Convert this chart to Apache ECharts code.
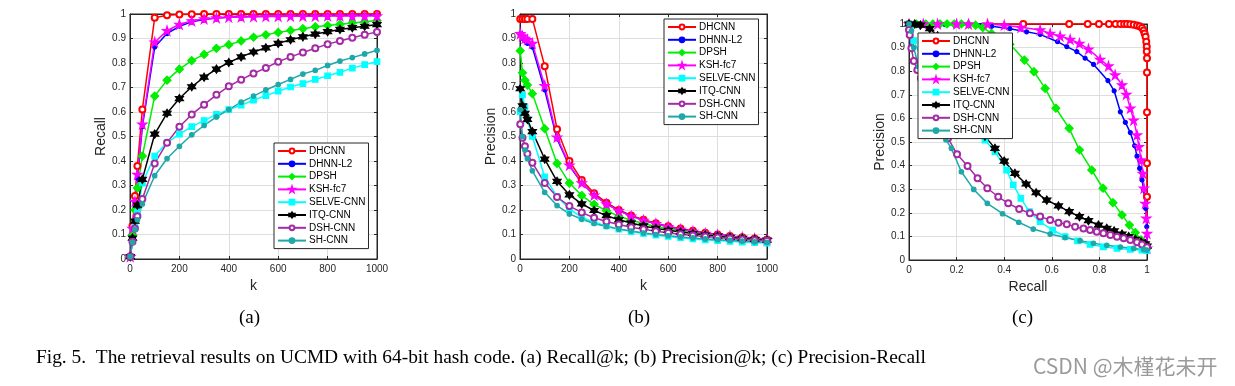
<!DOCTYPE html>
<html>
<head>
<meta charset="utf-8">
<script src="https://cdn.jsdelivr.net/npm/echarts@6/dist/echarts.min.js"></script>
<style>
html,body{margin:0;padding:0;background:#fff;}
#c{width:1235px;height:386px;}
</style>
</head>
<body>
<div id="c"></div>
<script>
// ---------------- DATA ----------------
const seriesNames = ['DHCNN','DHNN-L2','DPSH','KSH-fc7','SELVE-CNN','ITQ-CNN','DSH-CNN','SH-CNN'];
const kValues = [1,10,20,30,50,100,150,200,250,300,350,400,450,500,550,600,650,700,750,800,850,900,950,1000];

// (a) Recall@k
const recallDHCNN = [0.01,0.135,0.257,0.38,0.61,0.985,0.995,0.998,0.999,1,1,1,1,1,1,1,1,1,1,1,1,1,1,1];
const recallDHNN  = [0.01,0.12,0.22,0.33,0.54,0.865,0.92,0.95,0.968,0.978,0.984,0.987,0.989,0.99,0.991,0.992,0.992,0.993,0.993,0.994,0.994,0.995,0.995,0.995];
const recallDPSH  = [0.01,0.1,0.2,0.29,0.42,0.665,0.73,0.775,0.81,0.835,0.86,0.875,0.89,0.905,0.915,0.925,0.933,0.94,0.948,0.953,0.958,0.963,0.968,0.973];
const recallKSH   = [0.01,0.125,0.235,0.345,0.55,0.885,0.932,0.958,0.972,0.98,0.984,0.987,0.988,0.989,0.99,0.99,0.991,0.991,0.991,0.992,0.992,0.992,0.992,0.992];
const recallSELVE = [0.01,0.075,0.14,0.19,0.31,0.42,0.475,0.51,0.54,0.565,0.59,0.61,0.628,0.648,0.667,0.685,0.702,0.716,0.733,0.748,0.762,0.779,0.793,0.806];
const recallITQ   = [0.01,0.085,0.155,0.22,0.325,0.51,0.595,0.655,0.703,0.742,0.775,0.802,0.825,0.845,0.862,0.88,0.895,0.907,0.918,0.928,0.937,0.944,0.95,0.957];
const recallDSH   = [0.01,0.07,0.125,0.175,0.245,0.39,0.475,0.54,0.59,0.63,0.67,0.705,0.732,0.757,0.78,0.805,0.825,0.843,0.86,0.877,0.89,0.903,0.915,0.927];
const recallSH    = [0.01,0.068,0.12,0.16,0.225,0.34,0.41,0.46,0.507,0.545,0.58,0.61,0.64,0.665,0.69,0.712,0.733,0.755,0.77,0.79,0.808,0.822,0.837,0.852];

// (b) Precision@k
const precDHCNN = [0.98,0.98,0.98,0.98,0.98,0.787,0.53,0.4,0.322,0.268,0.23,0.2,0.178,0.16,0.146,0.134,0.124,0.115,0.107,0.1,0.094,0.089,0.084,0.08];
const precDHNN  = [0.92,0.9,0.89,0.88,0.865,0.69,0.49,0.38,0.31,0.261,0.225,0.198,0.176,0.158,0.144,0.132,0.122,0.113,0.105,0.099,0.093,0.088,0.083,0.079];
const precDPSH  = [0.85,0.76,0.73,0.71,0.675,0.532,0.39,0.31,0.259,0.223,0.197,0.175,0.158,0.145,0.133,0.123,0.115,0.107,0.101,0.095,0.09,0.086,0.081,0.078];
const precKSH   = [0.92,0.91,0.9,0.895,0.88,0.708,0.497,0.383,0.311,0.261,0.225,0.197,0.175,0.158,0.144,0.132,0.121,0.113,0.105,0.099,0.093,0.088,0.083,0.079];
const precSELVE = [0.6,0.67,0.62,0.57,0.5,0.335,0.255,0.205,0.17,0.15,0.135,0.122,0.112,0.104,0.097,0.092,0.087,0.082,0.078,0.075,0.072,0.069,0.067,0.065];
const precITQ   = [0.695,0.625,0.595,0.57,0.52,0.408,0.317,0.262,0.225,0.198,0.177,0.16,0.147,0.135,0.125,0.117,0.11,0.104,0.098,0.093,0.088,0.084,0.08,0.077];
const precDSH   = [0.55,0.495,0.46,0.43,0.393,0.31,0.253,0.216,0.19,0.168,0.153,0.141,0.13,0.121,0.113,0.107,0.101,0.096,0.092,0.088,0.084,0.08,0.077,0.074];
const precSH    = [0.61,0.5,0.445,0.41,0.36,0.272,0.218,0.184,0.162,0.145,0.133,0.122,0.114,0.106,0.1,0.095,0.09,0.086,0.082,0.079,0.076,0.073,0.07,0.068];

// (c) Precision-Recall curves
const prRecDHCNN  = [0,0.48,0.673,0.751,0.798,0.84,0.868,0.888,0.904,0.916,0.93,0.944,0.958,0.969,0.979,0.986,0.99,0.994,0.997,0.999,0.999,1,1,1,1,1,1];
const prPrecDHCNN = [1,1,1,1,1,1,1,1,1,1,0.999,0.997,0.994,0.99,0.983,0.972,0.96,0.946,0.925,0.904,0.883,0.855,0.794,0.626,0.41,0.268,0.056];
const prRecDHNN   = [0,0.05,0.1,0.15,0.2,0.25,0.3,0.347,0.424,0.494,0.551,0.624,0.663,0.705,0.74,0.775,0.836,0.862,0.888,0.909,0.93,0.948,0.958,0.969,0.979,0.986,0.994,0.999,1];
const prPrecDHNN  = [1,1,1,0.998,0.997,0.995,0.993,0.99,0.98,0.967,0.956,0.925,0.904,0.883,0.855,0.829,0.76,0.717,0.628,0.583,0.54,0.484,0.44,0.388,0.339,0.297,0.219,0.141,0.056];
const prRecDPSH   = [0,0.03,0.07,0.1,0.13,0.16,0.19,0.22,0.25,0.28,0.31,0.347,0.424,0.485,0.525,0.572,0.617,0.673,0.716,0.768,0.815,0.857,0.895,0.926,0.951,0.975,0.993,1];
const prPrecDPSH  = [1,1,1,1,1,1,1,1,0.998,0.995,0.985,0.96,0.914,0.847,0.798,0.727,0.643,0.558,0.466,0.381,0.304,0.243,0.191,0.148,0.116,0.085,0.064,0.05];
const prRecKSH    = [0,0.06,0.12,0.2,0.25,0.33,0.4,0.47,0.551,0.593,0.635,0.677,0.716,0.754,0.803,0.838,0.866,0.895,0.913,0.93,0.944,0.958,0.966,0.975,0.982,0.987,0.993,0.997,1,1];
const prPrecKSH   = [1,1,1,1,1,1,0.995,0.986,0.975,0.96,0.949,0.935,0.918,0.894,0.85,0.822,0.784,0.742,0.702,0.643,0.593,0.53,0.48,0.424,0.367,0.304,0.24,0.177,0.113,0.05];
const prRecSELVE  = [0,0.005,0.02,0.05,0.1,0.15,0.2,0.25,0.29,0.319,0.361,0.41,0.438,0.47,0.506,0.551,0.604,0.656,0.708,0.761,0.817,0.874,0.93,0.979,1];
const prPrecSELVE = [1,0.99,0.93,0.86,0.78,0.72,0.66,0.6,0.55,0.508,0.459,0.381,0.318,0.261,0.205,0.162,0.127,0.099,0.081,0.066,0.056,0.049,0.045,0.042,0.04];
const prRecITQ    = [0,0.024,0.048,0.087,0.12,0.15,0.18,0.21,0.24,0.27,0.3,0.319,0.361,0.4,0.445,0.492,0.534,0.579,0.628,0.673,0.716,0.754,0.796,0.831,0.862,0.895,0.923,0.951,0.975,0.993,1];
const prPrecITQ   = [1,1,0.995,0.98,0.95,0.9,0.84,0.77,0.7,0.63,0.57,0.525,0.473,0.419,0.367,0.322,0.285,0.254,0.229,0.205,0.184,0.167,0.148,0.134,0.123,0.11,0.099,0.088,0.076,0.068,0.059];
const prRecDSH    = [0,0.003,0.01,0.02,0.035,0.05,0.07,0.1,0.13,0.164,0.202,0.246,0.288,0.329,0.375,0.417,0.463,0.508,0.551,0.593,0.628,0.663,0.698,0.733,0.761,0.789,0.817,0.846,0.874,0.902,0.93,0.958,0.979,1];
const prPrecDSH   = [0.975,0.953,0.897,0.843,0.805,0.77,0.72,0.65,0.58,0.516,0.448,0.398,0.346,0.304,0.268,0.24,0.216,0.198,0.184,0.169,0.158,0.151,0.141,0.133,0.127,0.12,0.113,0.106,0.099,0.092,0.085,0.075,0.066,0.054];
const prRecSH     = [0,0.01,0.02,0.04,0.07,0.1,0.13,0.155,0.178,0.22,0.272,0.329,0.393,0.461,0.522,0.593,0.656,0.719,0.775,0.831,0.888,0.944,0.986,1];
const prPrecSH    = [1,0.97,0.9,0.82,0.72,0.63,0.56,0.51,0.473,0.374,0.299,0.24,0.196,0.16,0.131,0.11,0.095,0.082,0.071,0.062,0.055,0.049,0.045,0.042];

const yTickLabels = ['0','0.1','0.2','0.3','0.4','0.5','0.6','0.7','0.8','0.9','1'];

// ---------------- STYLE ----------------
const starPath = 'path://M50,0 L61,35 L98,35 L68,57 L79,91 L50,70 L21,91 L32,57 L2,35 L39,35 Z';
const hexPath  = 'path://M50,0 L64,25 L93,25 L78,50 L93,75 L64,75 L50,100 L36,75 L7,75 L22,50 L7,25 L36,25 Z';
const styles = {
  'DHCNN':     {color:'#ff0000', symbol:'emptyCircle', size:6},
  'DHNN-L2':   {color:'#0000ff', symbol:'circle', size:4},
  'DPSH':      {color:'#00ee00', symbol:'diamond', size:8},
  'KSH-fc7':   {color:'#ff00ff', symbol:starPath, size:9},
  'SELVE-CNN': {color:'#00ffff', symbol:'rect', size:5.5},
  'ITQ-CNN':   {color:'#000000', symbol:hexPath, size:8},
  'DSH-CNN':   {color:'#a52aa5', symbol:'emptyCircle', size:6},
  'SH-CNN':    {color:'#1fa8a8', symbol:'circle', size:4.5}
};

const recallSets = [recallDHCNN,recallDHNN,recallDPSH,recallKSH,recallSELVE,recallITQ,recallDSH,recallSH];
const precSets   = [precDHCNN,precDHNN,precDPSH,precKSH,precSELVE,precITQ,precDSH,precSH];
const prRecSets  = [prRecDHCNN,prRecDHNN,prRecDPSH,prRecKSH,prRecSELVE,prRecITQ,prRecDSH,prRecSH];
const prPrecSets = [prPrecDHCNN,prPrecDHNN,prPrecDPSH,prPrecKSH,prPrecSELVE,prPrecITQ,prPrecDSH,prPrecSH];

const FONT = 'Liberation Sans';
const gridColor = '#dedede';

const grids = [
  {left:130, top:14, width:247, height:245},
  {left:520, top:14, width:247, height:245},
  {left:909, top:24, width:238, height:236}
];

const xDefs = [
  {min:0,max:1000,interval:200,name:'k'},
  {min:0,max:1000,interval:200,name:'k'},
  {min:0,max:1,interval:0.2,name:'Recall'}
];
const yNames = ['Recall','Precision','Precision'];

const xAxes = [], yAxes = [];
grids.forEach((g,i)=>{
  const xd = xDefs[i];
  xAxes.push({
    type:'value', gridIndex:i, min:xd.min, max:xd.max, interval:xd.interval, position:'bottom',
    name:xd.name, nameLocation:'middle', nameGap:19,
    nameTextStyle:{fontFamily:FONT,fontSize:14,color:'#262626'},
    axisLine:{show:true,onZero:false,lineStyle:{color:'#262626',width:1}},
    axisTick:{show:true,inside:true,length:3,lineStyle:{color:'#262626'}},
    axisLabel:{fontFamily:FONT,fontSize:10,color:'#262626',margin:5,
      formatter:(v)=>String(Math.round(v*1000)/1000)},
    splitLine:{show:true,lineStyle:{color:gridColor,width:1}}
  });
  xAxes.push({
    type:'value', gridIndex:i, min:xd.min, max:xd.max, interval:xd.interval, position:'top',
    axisLine:{show:true,onZero:false,lineStyle:{color:'#262626',width:1}},
    axisTick:{show:true,inside:true,length:3,lineStyle:{color:'#262626'}},
    axisLabel:{show:false}, splitLine:{show:false}
  });
  yAxes.push({
    type:'value', gridIndex:i, min:0, max:1, interval:0.1, position:'left',
    name:yNames[i], nameLocation:'middle', nameGap:17,
    nameTextStyle:{fontFamily:FONT,fontSize:14,color:'#262626'},
    axisLine:{show:true,onZero:false,lineStyle:{color:'#262626',width:1}},
    axisTick:{show:true,inside:true,length:3,lineStyle:{color:'#262626'}},
    axisLabel:{fontFamily:FONT,fontSize:10,color:'#262626',margin:4,
      formatter:(v)=>yTickLabels[Math.round(v*10)]},
    splitLine:{show:true,lineStyle:{color:gridColor,width:1}}
  });
  yAxes.push({
    type:'value', gridIndex:i, min:0, max:1, interval:0.1, position:'right',
    axisLine:{show:true,onZero:false,lineStyle:{color:'#262626',width:1}},
    axisTick:{show:true,inside:true,length:3,lineStyle:{color:'#262626'}},
    axisLabel:{show:false}, splitLine:{show:false}
  });
});

const series = [];
function addSeries(panel, name, data){
  const st = styles[name];
  series.push({
    type:'line', name:name, xAxisIndex:panel*2, yAxisIndex:panel*2,
    data:data, symbol:st.symbol, symbolSize:st.size, showSymbol:true,
    clip:false, animation:false, z:2,
    lineStyle:{color:st.color,width:1.5},
    itemStyle:{color:st.color,borderColor:st.color,borderWidth:1.2}
  });
}
seriesNames.forEach((n,si)=>{
  addSeries(0, n, kValues.map((k,j)=>[k, recallSets[si][j]]));
});
seriesNames.forEach((n,si)=>{
  addSeries(1, n, kValues.map((k,j)=>[k, precSets[si][j]]));
});
seriesNames.forEach((n,si)=>{
  addSeries(2, n, prRecSets[si].map((r,j)=>[r, prPrecSets[si][j]]));
});

const legendPos = [{left:274,top:143},{left:664,top:19},{left:918,top:33}];
const legends = legendPos.map(p=>({
  data:seriesNames, orient:'vertical', left:p.left, top:p.top,
  backgroundColor:'#ffffff', borderColor:'#262626', borderWidth:1,
  padding:[3,3,3,3], itemWidth:28, itemHeight:6, itemGap:2.8,
  selectedMode:false, z:10,
  textStyle:{fontFamily:FONT,fontSize:10,color:'#000',padding:[0,0,0,-2]}
}));

const serif = 'Liberation Serif';
const graphics = [
  {type:'text', left:239, top:309, style:{text:'(a)', font:'19px "'+serif+'"', fill:'#000'}},
  {type:'text', left:628, top:309, style:{text:'(b)', font:'19px "'+serif+'"', fill:'#000'}},
  {type:'text', left:1012, top:309, style:{text:'(c)', font:'19px "'+serif+'"', fill:'#000'}},
  {type:'text', left:36, top:348, style:{text:'Fig. 5.  The retrieval results on UCMD with 64-bit hash code. (a) Recall@k; (b) Precision@k; (c) Precision-Recall', font:'19.4px "'+serif+'"', fill:'#000'}},
  {type:'text', left:1033, top:356, style:{text:'CSDN @木槿花未开', font:'21px "Noto Sans CJK SC"', fill:'#9a9a9a'}}
];

const chart = echarts.init(document.getElementById('c'), null, {renderer:'canvas'});
chart.setOption({
  backgroundColor:'#ffffff',
  animation:false,
  grid:grids.map(g=>Object.assign({show:true,borderColor:'#262626',borderWidth:1,backgroundColor:'#fff'},g)),
  xAxis:xAxes, yAxis:yAxes,
  legend:legends,
  series:series,
  graphic:graphics
});
</script>
</body>
</html>
